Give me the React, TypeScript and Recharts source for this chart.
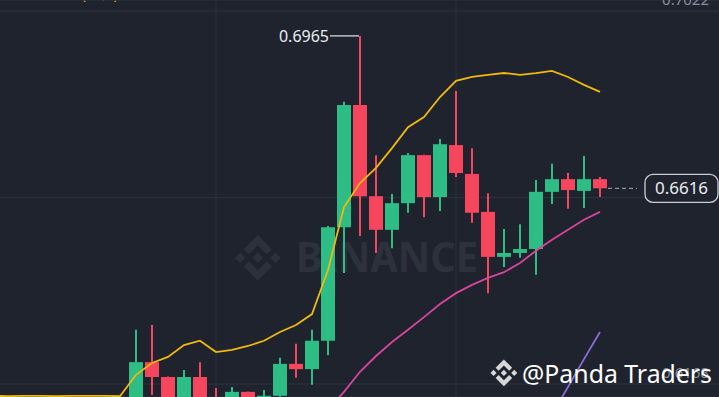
import { ComposedChart, Bar, Line, XAxis, YAxis, CartesianGrid, Cell, ReferenceDot } from "recharts";

const BG = "#1f232e";
const GRID = "#2a2f3b";
const GREEN = "#2ebd85";
const RED = "#f6465d";
const UP_COLOR = "#f0b90b";
const MID_COLOR = "#d6459e";
const DN_COLOR = "#8b6bd6";

// slots are 16px apart, slot 0 sits just off the left edge
const slotCount = 46;
const slots = Array.from({ length: slotCount }, (_, k) => k);

// candles, first one is slot 9
const candleStart = 9;
const opens = [
  0.61, 0.6218, 0.6184, 0.6135, 0.6184, 0.6135, 0.6125, 0.615, 0.613, 0.6141,
  0.6214, 0.6202, 0.6267, 0.6527, 0.6807, 0.6598, 0.6521, 0.6582, 0.6692, 0.6596,
  0.6715, 0.6649, 0.6562, 0.6459, 0.6468, 0.6477, 0.6608, 0.6637, 0.661, 0.6637,
];
const highs = [
  0.6292, 0.6303, 0.6185, 0.62, 0.6218, 0.6159, 0.6161, 0.6151, 0.6154, 0.6228,
  0.626, 0.6292, 0.653, 0.6814, 0.6965, 0.6692, 0.6603, 0.6697, 0.6693, 0.6729,
  0.6839, 0.6708, 0.6605, 0.6523, 0.6534, 0.6635, 0.6672, 0.6651, 0.669, 0.6642,
];
const lows = [
  0.609, 0.6143, 0.612, 0.6125, 0.612, 0.61, 0.6115, 0.6115, 0.6122, 0.6139,
  0.6182, 0.6166, 0.6234, 0.6422, 0.6507, 0.6468, 0.6479, 0.656, 0.655, 0.6564,
  0.6642, 0.6537, 0.6376, 0.6436, 0.6457, 0.6418, 0.658, 0.6569, 0.6571, 0.6596,
];
const closes = [
  0.6218, 0.6184, 0.613, 0.6184, 0.613, 0.611, 0.615, 0.6125, 0.6141, 0.6214,
  0.6202, 0.6267, 0.6527, 0.6807, 0.6598, 0.6521, 0.6582, 0.6692, 0.6596, 0.6717,
  0.6651, 0.656, 0.6459, 0.6468, 0.6477, 0.6608, 0.6637, 0.6612, 0.6637, 0.6616,
];

// BOLL bands
const upStart = 0;
const bollUp = [
  0.6141, 0.614, 0.6141, 0.6141, 0.614, 0.6141, 0.6141, 0.6141, 0.614, 0.6189,
  0.6216, 0.623, 0.6257, 0.6267, 0.6241, 0.6246, 0.6255, 0.6267, 0.6287, 0.6303,
  0.6328, 0.6429, 0.6573, 0.6628, 0.6663, 0.6708, 0.6756, 0.6779, 0.6825, 0.6862,
  0.6871, 0.6876, 0.688, 0.6876, 0.688, 0.6885, 0.6871, 0.6853, 0.6837,
];
const midStart = 21;
const bollMid = [
  0.6109, 0.615, 0.6196, 0.6232, 0.6264, 0.6292, 0.6321, 0.6351, 0.6376, 0.6395,
  0.6411, 0.6424, 0.6445, 0.6473, 0.6498, 0.6521, 0.6544, 0.6562,
];
const dnStart = 35;
const bollDn = [0.6099, 0.6161, 0.6225, 0.6287];

const priceTicks = [0.6168, 0.6595, 0.7022];
const gridSlots = [14, 29];
const priceDomain = [0.61382, 0.70472];

const pick = (arr: number[], start: number, k: number) =>
  k - start >= 0 && k - start < arr.length ? arr[k - start] : null;

const rows = slots.map((k) => {
  const i = k - candleStart;
  const has = i >= 0 && i < opens.length;
  const o = has ? opens[i] : 0;
  const c = has ? closes[i] : 0;
  return {
    slot: k,
    wick: has ? [lows[i], highs[i]] : null,
    body: has ? [Math.min(o, c), Math.max(o, c)] : null,
    rising: has && c >= o,
    up: pick(bollUp, upStart, k),
    mid: pick(bollMid, midStart, k),
    dn: pick(bollDn, dnStart, k),
  };
});

const highIdx = highs.indexOf(Math.max(...highs));
const lastIdx = closes.length - 1;
const lastClose = closes[lastIdx];

const LOGO =
  "M38.171 53.203 62.759 28.616l24.6 24.6 14.306-14.306L62.759 0 23.864 38.896zM0 62.759l14.307-14.308 14.306 14.307-14.307 14.307zm38.171 9.556 24.588 24.587 24.6-24.599 14.307 14.298-.007.008-38.9 38.899-38.896-38.895-.02-.02zM96.903 62.76l14.307-14.307 14.306 14.307-14.306 14.307zm-19.63-.006h.006L62.759 48.234 52.03 58.962l-1.233 1.233-2.541 2.541-.02.02.02.021 14.503 14.502 14.52-14.52.007-.008z";

function Logo({ cx, cy, size, fill }: { cx: number; cy: number; size: number; fill: string }) {
  const s = size / 126.61;
  return <path d={LOGO} fill={fill} transform={`translate(${cx - size / 2} ${cy - size / 2}) scale(${s})`} />;
}

function PriceTick(props: any) {
  const { x, y, payload } = props;
  // the last-price tag sits on top of the middle label
  if (Math.abs(payload.value - lastClose) < 0.003) return <g />;
  return (
    <text x={x - 11} y={y - 6} textAnchor="end" fill="#848e9c" fontSize={15} fontFamily="Noto Sans">
      {Number(payload.value).toFixed(4)}
    </text>
  );
}

function HighMark(props: any) {
  const { cx, cy } = props;
  return (
    <g>
      <line x1={cx - 30} x2={cx - 1} y1={cy} y2={cy} stroke="#e6e8ea" strokeWidth={1.2} />
      <text x={cx - 31} y={cy + 6} textAnchor="end" fill="#eaecef" fontSize={16} fontFamily="Noto Sans">
        {highs[highIdx].toFixed(4)}
      </text>
    </g>
  );
}

function LastPrice(props: any) {
  const { cx, cy } = props;
  return (
    <g>
      <line x1={cx + 8} x2={cx + 37} y1={cy} y2={cy} stroke="#8d929c" strokeWidth={1.2} strokeDasharray="4 3" />
      <rect x={cx + 45} y={cy - 14} width={73} height={28} rx={8} fill={BG} stroke="#c9ccd3" strokeWidth={1.3} />
      <text x={cx + 81.5} y={cy + 6} textAnchor="middle" fill="#eaecef" fontSize={17} fontFamily="Noto Sans">
        {lastClose.toFixed(4)}
      </text>
    </g>
  );
}

export default function App() {
  return (
    <div style={{ position: "fixed", left: 0, top: 0, width: 719, height: 397, overflow: "hidden", background: BG }}>
      <svg width={719} height={397} style={{ position: "absolute", left: 0, top: 0 }}>
        <Logo cx={258} cy={258} size={46} fill="#2c313c" />
        <text x={296} y={272} fontSize={41} fontWeight={700} fill="#2c313c" fontFamily="Noto Sans" textLength={182} lengthAdjust="spacingAndGlyphs">
          BINANCE
        </text>
        <text x={47} y={-1} fontSize={14} fill={UP_COLOR} fontFamily="Noto Sans">
          BOLL(21,2)
        </text>
      </svg>
      <div style={{ position: "absolute", left: -16, top: 0 }}>
        <ComposedChart width={slotCount * 16} height={397} data={rows} margin={{ top: 0, right: 0, bottom: 0, left: 0 }}>
          <CartesianGrid stroke={GRID} strokeWidth={1.3} />
          <XAxis dataKey="slot" hide ticks={gridSlots} />
          <XAxis xAxisId="w" dataKey="slot" hide />
          <YAxis
            orientation="right"
            mirror
            domain={priceDomain}
            allowDataOverflow
            ticks={priceTicks}
            axisLine={false}
            tickLine={false}
            tickSize={0}
            tickMargin={0}
            tick={<PriceTick />}
          />
          <Bar xAxisId="w" dataKey="wick" barSize={2} isAnimationActive={false}>
            {rows.map((r, i) => (
              <Cell key={i} fill={r.rising ? GREEN : RED} />
            ))}
          </Bar>
          <Bar dataKey="body" barSize={14} isAnimationActive={false}>
            {rows.map((r, i) => (
              <Cell key={i} fill={r.rising ? GREEN : RED} />
            ))}
          </Bar>
          <Line dataKey="up" stroke={UP_COLOR} strokeWidth={1.8} dot={false} isAnimationActive={false} />
          <Line dataKey="mid" stroke={MID_COLOR} strokeWidth={1.8} dot={false} isAnimationActive={false} />
          <Line dataKey="dn" stroke={DN_COLOR} strokeWidth={1.8} dot={false} isAnimationActive={false} />
          <ReferenceDot x={candleStart + highIdx} y={highs[highIdx]} shape={<HighMark />} />
          <ReferenceDot x={candleStart + lastIdx} y={lastClose} shape={<LastPrice />} />
        </ComposedChart>
      </div>
      <svg width={719} height={397} style={{ position: "absolute", left: 0, top: 0 }}>
        <Logo cx={504} cy={373} size={27} fill="#d6d6d6" />
        <text x={522} y={383} fontSize={26} fill="#ffffff" fontFamily="Noto Sans" textLength={190} lengthAdjust="spacingAndGlyphs">
          @Panda Traders
        </text>
      </svg>
    </div>
  );
}
